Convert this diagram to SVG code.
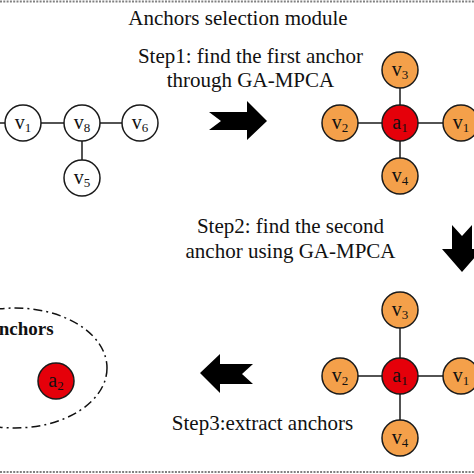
<svg xmlns="http://www.w3.org/2000/svg" width="474" height="474" viewBox="0 0 474 474">
<defs>
<style>
text{font-family:"Liberation Serif","Times New Roman",serif;fill:#111}
.t{font-size:21px}
.lbl{font-size:20px;text-anchor:middle}
.sub{font-size:13px}
.w{fill:#fff;stroke:#1a1a1a;stroke-width:1.5}
.o{fill:#F4A04A;stroke:#1a1a1a;stroke-width:1.5}
.r{fill:#E5000A;stroke:#1a1a1a;stroke-width:1.5}
.e{stroke:#1a1a1a;stroke-width:1.5;fill:none}
.arr{fill:#000}
.border{stroke:#808080;stroke-width:2;stroke-dasharray:2 1.3;fill:none}
</style>
</defs>
<rect width="474" height="474" fill="#fff"/>
<line class="border" x1="0" y1="1.5" x2="474" y2="1.5"/>
<line class="border" x1="0" y1="472" x2="474" y2="472"/>

<text class="t" x="238" y="25" text-anchor="middle">Anchors selection module</text>
<text class="t" x="250.5" y="63" text-anchor="middle">Step1: find the first anchor</text>
<text class="t" x="250.5" y="87" text-anchor="middle">through GA-MPCA</text>
<text class="t" x="290.5" y="233" text-anchor="middle">Step2: find the second</text>
<text class="t" x="290.5" y="258" text-anchor="middle">anchor using GA-MPCA</text>
<text class="t" x="262.5" y="430" text-anchor="middle">Step3:extract anchors</text>

<g id="connectors">
<line class="e" x1="0" y1="123" x2="140" y2="123"/>
<line class="e" x1="82" y1="123" x2="82" y2="178"/>
<line class="e" x1="340" y1="123" x2="474" y2="123"/>
<line class="e" x1="400" y1="70" x2="400" y2="176"/>
<line class="e" x1="340" y1="376" x2="474" y2="376"/>
<line class="e" x1="400" y1="310" x2="400" y2="438"/>
</g>

<g id="arrows">
<path class="arr" d="M209,112 L247,112 L247,101 L267,121 L247,140 L247,130 L209,130 L221,121 Z"/>
<path class="arr" d="M452,225 L462,236 L472,225 L472,249 L482,249 L462,272 L442,249 L452,249 Z"/>
<path class="arr" d="M200,373 L220,354 L220,364 L253,364 L242,374 L253,384 L220,384 L220,393 Z"/>
</g>

<g id="left-graph">
<g id="n-v1"><circle class="w" cx="23" cy="123" r="18"/><text class="lbl" x="23" y="129">v<tspan class="sub" dy="3">1</tspan></text></g>
<g id="n-v8"><circle class="w" cx="82" cy="123" r="18"/><text class="lbl" x="82" y="129">v<tspan class="sub" dy="3">8</tspan></text></g>
<g id="n-v6"><circle class="w" cx="140" cy="123" r="18"/><text class="lbl" x="140" y="129">v<tspan class="sub" dy="3">6</tspan></text></g>
<g id="n-v5"><circle class="w" cx="82" cy="178" r="18"/><text class="lbl" x="82" y="184">v<tspan class="sub" dy="3">5</tspan></text></g>
</g>

<g id="top-right-graph">
<g id="t-a1"><circle class="r" cx="400" cy="123" r="18"/><text class="lbl" x="400" y="129">a<tspan class="sub" dy="3">1</tspan></text></g>
<g id="t-v2"><circle class="o" cx="340" cy="123" r="18"/><text class="lbl" x="340" y="129">v<tspan class="sub" dy="3">2</tspan></text></g>
<g id="t-v1"><circle class="o" cx="461" cy="123" r="18"/><text class="lbl" x="461" y="129">v<tspan class="sub" dy="3">1</tspan></text></g>
<g id="t-v3"><circle class="o" cx="400" cy="70" r="18"/><text class="lbl" x="400" y="76">v<tspan class="sub" dy="3">3</tspan></text></g>
<g id="t-v4"><circle class="o" cx="400" cy="176" r="18"/><text class="lbl" x="400" y="182">v<tspan class="sub" dy="3">4</tspan></text></g>
</g>

<g id="bottom-right-graph">
<g id="b-a1"><circle class="r" cx="400" cy="376" r="18"/><text class="lbl" x="400" y="382">a<tspan class="sub" dy="3">1</tspan></text></g>
<g id="b-v2"><circle class="o" cx="340" cy="376" r="18"/><text class="lbl" x="340" y="382">v<tspan class="sub" dy="3">2</tspan></text></g>
<g id="b-v1"><circle class="o" cx="461" cy="376" r="18"/><text class="lbl" x="461" y="382">v<tspan class="sub" dy="3">1</tspan></text></g>
<g id="b-v3"><circle class="o" cx="400" cy="310" r="18"/><text class="lbl" x="400" y="316">v<tspan class="sub" dy="3">3</tspan></text></g>
<g id="b-v4"><circle class="o" cx="400" cy="438" r="18"/><text class="lbl" x="400" y="444">v<tspan class="sub" dy="3">4</tspan></text></g>
</g>

<g id="anchors-set">
<ellipse cx="15" cy="368" rx="92" ry="60" fill="none" stroke="#111" stroke-width="1.5" stroke-dasharray="9 4 2 4"/>
<text x="-15" y="335" font-size="19" font-weight="bold">Anchors</text>
<g id="n-a2"><circle class="r" cx="56" cy="381" r="18"/><text class="lbl" x="56" y="387">a<tspan class="sub" dy="3">2</tspan></text></g>
</g>
</svg>
